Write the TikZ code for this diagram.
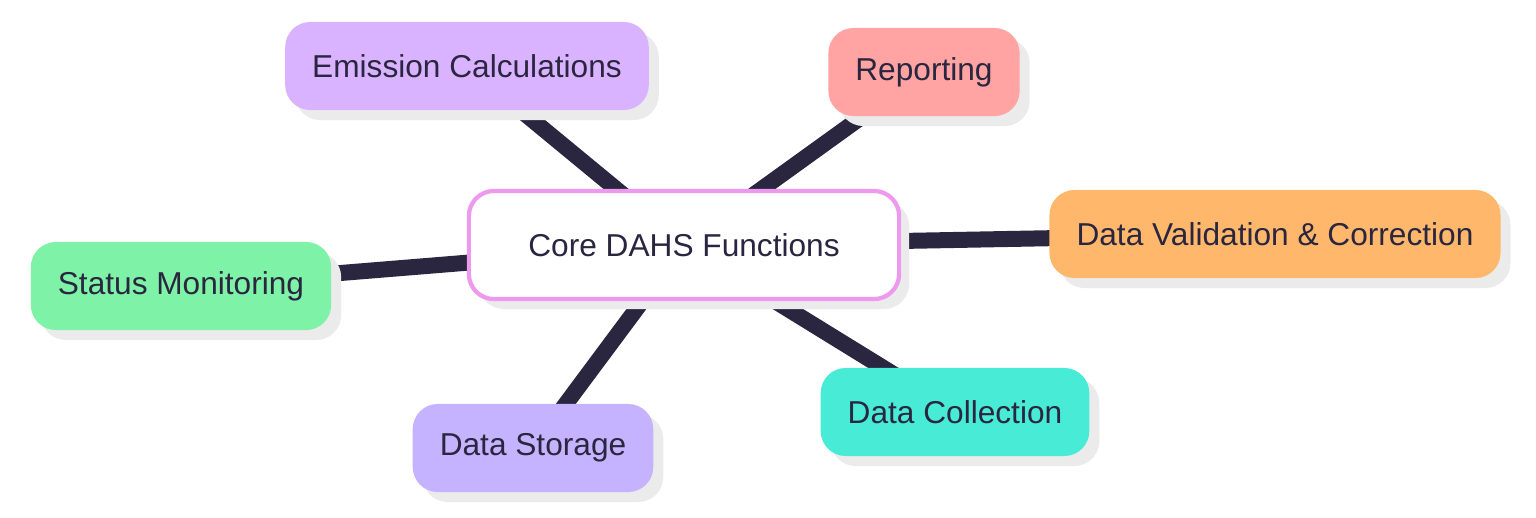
\documentclass[tikz,border=0pt]{standalone}
\usepackage{fontspec}
\setmainfont{Liberation Sans}
\usetikzlibrary{shadows,backgrounds}

\definecolor{edgecol}{HTML}{2B2640}
\definecolor{txtcol}{HTML}{2B2640}

\begin{document}
\begin{tikzpicture}[x=0.01cm,y=-0.01cm,
    topic/.style={rounded corners=0.25cm, minimum height=0.88cm, inner xsep=0.27cm,
        text=txtcol, font=\fontsize{9}{11}\selectfont,
        drop shadow={shadow xshift=0.1cm, shadow yshift=-0.1cm, fill=black!8, opacity=1}},
    link/.style={draw=edgecol, line width=0.16cm}]
    \useasboundingbox (0,0) rectangle (1536,517);

    % Centre node
    \node[topic, fill=white, draw=violet!35!magenta!40, line width=1.2pt,
        minimum height=1.08cm, minimum width=4.3cm] (core) at (684,245) {Core DAHS Functions};

    % Branches
    \node[topic, fill={rgb,255:red,217;green,179;blue,255}] (emis) at (467,66) {Emission Calculations};
    \node[topic, fill={rgb,255:red,255;green,163;blue,163}] (rep) at (924,72) {Reporting};
    \node[topic, fill={rgb,255:red,255;green,183;blue,107}] (valid) at (1275,234) {Data Validation \& Correction};
    \node[topic, fill={rgb,255:red,126;green,242;blue,166}] (status) at (181,286) {Status Monitoring};
    \node[topic, fill={rgb,255:red,198;green,179;blue,255}] (store) at (533,448) {Data Storage};
    \node[topic, fill={rgb,255:red,71;green,235;blue,214}] (coll) at (955,412) {Data Collection};

    % Connectors
    \begin{scope}[on background layer]
        \foreach \n in {emis,rep,valid,status,store,coll}
            \draw[link] (core.center) -- (\n.center);
    \end{scope}
\end{tikzpicture}
\end{document}
